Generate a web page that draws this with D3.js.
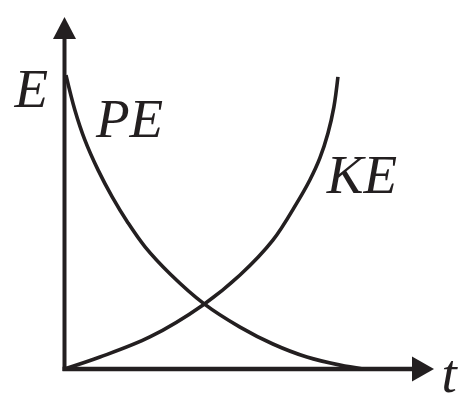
<!DOCTYPE html>
<html>
<head>
<meta charset="utf-8">
<script src="https://cdn.jsdelivr.net/npm/d3@7"></script>
<style>
    html, body { margin: 0; padding: 0; background: #fff; }
    svg { display: block; }
    .label { font-family: "Liberation Serif", "Times New Roman", serif; font-style: italic; fill: #231f20; }
</style>
</head>
<body>
<svg id="chart"></svg>
<script>
// Potential energy falling off with time (t, E)
const peT = [0.04, 0.28, 0.55, 0.91, 1.29, 1.72, 2.18, 2.86, 3.78, 4.75, 5.64, 6.56, 7.46, 8.08];
const peE = [8.35, 7.36, 6.51, 5.65, 4.89, 4.15, 3.47, 2.70, 1.85, 1.19, 0.71, 0.34, 0.11, 0];

// Kinetic energy rising with time
const keT = [0, 0.96, 2.31, 3.75, 4.75, 5.64, 6.29, 6.64, 6.91, 7.13, 7.29, 7.40];
const keE = [0, 0.34, 0.91, 1.82, 2.67, 3.66, 4.72, 5.37, 5.99, 6.70, 7.44, 8.30];

const curveLabels = [
    { text: 'PE', t: 0.85, e: 6.6 },
    { text: 'KE', t: 7.1, e: 5.0 }
];
const axisLabels = [
    { text: 'E', t: -1.35, e: 7.45 },
    { text: 't', t: 10.2, e: -0.65 }
];

const width = 474;
const height = 410;
const ink = '#231f20';

const svg = d3.select('#chart')
    .attr('width', width)
    .attr('height', height);

// Scales: domain 0..10 on both axes, arrow tips sit at 10
const x = d3.scaleLinear().domain([0, 10]).range([64.5, 434]);
const y = d3.scaleLinear().domain([0, 10]).range([369, 17]);

// Axes with arrow heads
const arrowLen = 22;
svg.append('line')
    .attr('x1', x(0)).attr('y1', y(0) + 2)
    .attr('x2', x(0)).attr('y2', y(10) + arrowLen - 1)
    .attr('stroke', ink).attr('stroke-width', 4);
svg.append('line')
    .attr('x1', x(0) - 2).attr('y1', y(0))
    .attr('x2', x(10) - arrowLen + 1).attr('y2', y(0))
    .attr('stroke', ink).attr('stroke-width', 4.5);

svg.append('path')
    .attr('d', `M${x(0)},${y(10)} L${x(0) - 11.5},${y(10) + arrowLen} L${x(0) + 11.5},${y(10) + arrowLen} Z`)
    .attr('fill', ink);
svg.append('path')
    .attr('d', `M${x(10)},${y(0)} L${x(10) - arrowLen},${y(0) - 12.5} L${x(10) - arrowLen},${y(0) + 12.5} Z`)
    .attr('fill', ink);

// Curves
const line = d3.line()
    .x(d => x(d[0]))
    .y(d => y(d[1]))
    .curve(d3.curveCatmullRom.alpha(0.5));

svg.append('path')
    .datum(d3.zip(peT, peE))
    .attr('d', line)
    .attr('fill', 'none')
    .attr('stroke', ink)
    .attr('stroke-width', 3.6);

svg.append('path')
    .datum(d3.zip(keT, keE))
    .attr('d', line)
    .attr('fill', 'none')
    .attr('stroke', ink)
    .attr('stroke-width', 3.6);

// Labels
svg.selectAll('text.curve')
    .data(curveLabels)
    .join('text')
    .attr('class', 'label curve')
    .attr('x', d => x(d.t))
    .attr('y', d => y(d.e))
    .attr('font-size', 55)
    .text(d => d.text);

svg.selectAll('text.axis')
    .data(axisLabels)
    .join('text')
    .attr('class', 'label axis')
    .attr('x', d => x(d.t))
    .attr('y', d => y(d.e))
    .attr('font-size', 55)
    .text(d => d.text);
</script>
</body>
</html>
